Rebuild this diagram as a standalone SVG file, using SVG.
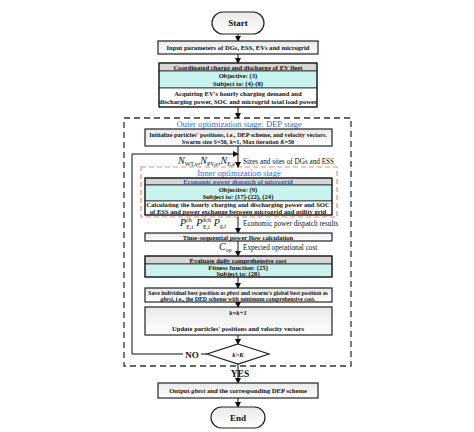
<svg xmlns="http://www.w3.org/2000/svg" width="474" height="432" viewBox="0 0 474 432">
<style>
.bx{fill:url(#g);stroke:#222;stroke-width:1.2}
.hd{fill:#d6d6d6;stroke:#222;stroke-width:0.8}
.cy{fill:#c8f3ee;stroke:#222;stroke-width:0.8}
.wh{fill:#fff;stroke:#222;stroke-width:0.8}
.fr{fill:none;stroke:#222;stroke-width:1.2}
.t{font-family:"Liberation Serif",serif;font-weight:bold;font-size:6.6px;fill:#111;text-anchor:middle}
.l{font-family:"Liberation Serif",serif;font-size:7.2px;fill:#111}
.b{font-family:"Liberation Serif",serif;font-size:8.6px;fill:#2f6fdc;text-anchor:middle}
.m{font-family:"Liberation Serif",serif;font-style:italic;font-size:10px;fill:#111}
.s{font-size:6px;font-style:normal}
.ln{stroke:#111;stroke-width:1;fill:none}
</style>
<defs>
<linearGradient id="g" x1="0" y1="0" x2="0" y2="1"><stop offset="0" stop-color="#e9e9e9"/><stop offset="1" stop-color="#ffffff"/></linearGradient>
<marker id="a" markerWidth="6" markerHeight="6" refX="5" refY="3" orient="auto" markerUnits="userSpaceOnUse"><path d="M0,0 L6,3 L0,6 z" fill="#111"/></marker>
</defs>
<rect width="474" height="432" fill="#fff"/>

<g id="outer-stage">
<rect x="124" y="118" width="227" height="248" fill="none" stroke="#333" stroke-width="1.3" stroke-dasharray="6,4"/>
<text class="b" x="239" y="127">Outer optimization stage: DEP stage</text>
</g>
<g id="inner-stage">
<rect x="141" y="167" width="196" height="50" fill="none" stroke="#e8906a" stroke-width="1.2" stroke-dasharray="5,3"/>
<text class="b" x="239" y="175.5">Inner optimization stage</text>
</g>

<g id="connectors">
<line class="ln" x1="238" y1="34" x2="238" y2="41" marker-end="url(#a)"/>
<line class="ln" x1="238" y1="54" x2="238" y2="63" marker-end="url(#a)"/>
<line class="ln" x1="238" y1="107" x2="238" y2="118" marker-end="url(#a)"/>
<line class="ln" x1="238" y1="146" x2="238" y2="167" marker-end="url(#a)"/>
<polyline class="ln" points="207,354 132,354 132,154 238,154" marker-end="url(#a)"/>
<line class="ln" x1="238" y1="217" x2="238" y2="233" marker-end="url(#a)"/>
<line class="ln" x1="238" y1="241" x2="238" y2="256" marker-end="url(#a)"/>
<line class="ln" x1="238" y1="277" x2="238" y2="288" marker-end="url(#a)"/>
<line class="ln" x1="238" y1="302" x2="238" y2="307" marker-end="url(#a)"/>
<line class="ln" x1="238" y1="335" x2="238" y2="344" marker-end="url(#a)"/>
<line class="ln" x1="238" y1="364" x2="238" y2="383" marker-end="url(#a)"/>
<line class="ln" x1="238" y1="398" x2="238" y2="407" marker-end="url(#a)"/>
<rect x="183" y="349" width="18" height="10" fill="#fff"/>
<text x="192" y="357.5" style="font-family:'Liberation Serif',serif;font-weight:bold;font-size:9px;text-anchor:middle;fill:#111">NO</text>
<text x="240" y="376.5" style="font-family:'Liberation Serif',serif;font-weight:bold;font-size:9.5px;text-anchor:middle;fill:#111">YES</text>
</g>

<g id="start">
<rect x="212" y="12" width="52" height="22" rx="11" class="bx"/>
<text class="t" x="238" y="26" style="font-size:9px">Start</text>
</g>

<g id="input">
<rect x="158" y="41" width="160" height="13" class="bx"/>
<text class="t" x="238" y="50">Input parameters of DGs, ESS, EVs and microgrid</text>
</g>

<g id="ev-fleet">
<rect x="159" y="63" width="158" height="8" class="hd"/>
<rect x="159" y="71" width="158" height="17" class="cy"/>
<rect x="159" y="88" width="158" height="19" class="wh"/>
<rect x="159" y="63" width="158" height="44" class="fr"/>
<text class="t" x="238" y="69.5">Coordinated charge and discharge of EV fleet</text>
<text class="t" x="238" y="77.5">Objective: (3)</text>
<text class="t" x="238" y="85.5">Subject to: (4)-(8)</text>
<text class="t" x="238" y="96">Acquiring EV's hourly charging demand and</text>
<text class="t" x="238" y="104">discharging power, SOC and microgrid total load power</text>
</g>

<g id="initialize">
<rect x="145" y="129" width="187" height="17" class="bx"/>
<text class="t" x="238" y="136.5" style="font-size:6.2px">Initialize particles' positions, i.e., DEP scheme, and velocity vectors.</text>
<text class="t" x="238" y="143.5" style="font-size:6.2px">Swarm size <tspan font-style="italic">S</tspan>=50, <tspan font-style="italic">k</tspan>=1, Max iteration <tspan font-style="italic">K</tspan>=50</text>
</g>

<g id="label-sizes">
<text class="m" x="178" y="164">N<tspan class="s" dy="2">WT,e</tspan><tspan dy="-2">,N</tspan><tspan class="s" dy="2">PV,e</tspan><tspan dy="-2">,N</tspan><tspan class="s" dy="2">E,e</tspan></text>
<text class="l" x="243" y="164">Sizes and sites of DGs and ESS</text>
</g>

<g id="dispatch">
<rect x="145" y="178" width="187" height="7" class="hd"/>
<rect x="145" y="185" width="187" height="16" class="cy"/>
<rect x="145" y="201" width="187" height="14" class="wh"/>
<rect x="145" y="178" width="187" height="37" class="fr"/>
<text class="t" x="238" y="184" style="fill:#2f5fc0">Economic power dispatch of microgrid</text>
<text class="t" x="238" y="191.5">Objective: (9)</text>
<text class="t" x="238" y="199">Subject to: (17)-(22), (24)</text>
<text class="t" x="238" y="207">Calculating the hourly charging and discharging power and SOC</text>
<text class="t" x="238" y="213.5">of ESS and power exchange between microgrid and utility grid</text>
</g>

<g id="label-p">
<text class="m" x="180" y="226">P<tspan class="s" dx="0" dy="-4">ch</tspan><tspan class="s" dx="-5.5" dy="7">E,<tspan font-style="italic">t</tspan></tspan><tspan dx="3" dy="-3">P</tspan><tspan class="s" dy="-4">dch</tspan><tspan class="s" dx="-8" dy="7">E,<tspan font-style="italic">t</tspan></tspan><tspan dx="4" dy="-3">P</tspan><tspan class="s" dy="2">g,<tspan font-style="italic">t</tspan></tspan></text>
<text class="l" x="243" y="226">Economic power dispatch results</text>
</g>

<g id="powerflow">
<rect x="145" y="233" width="187" height="8" class="bx"/>
<text class="t" x="238" y="239.5">Time-sequential power flow calculation</text>
</g>

<g id="label-cop">
<text class="m" x="219" y="250">C<tspan class="s" dy="2">op</tspan></text>
<text class="l" x="243" y="250">Expected operational cost</text>
</g>

<g id="evaluate">
<rect x="145" y="256" width="187" height="8" class="hd"/>
<rect x="145" y="264" width="187" height="13" class="cy"/>
<rect x="145" y="256" width="187" height="21" class="fr"/>
<text class="t" x="238" y="262.5">Evaluate daily comprehensive cost</text>
<text class="t" x="238" y="269.5">Fitness function: (25)</text>
<text class="t" x="238" y="276">Subject to: (28)</text>
</g>

<g id="save">
<rect x="145" y="288" width="187" height="14" class="bx"/>
<text class="t" x="238" y="294.5" style="font-size:5.8px">Save individual best position as <tspan font-style="italic">pbest</tspan> and swarm's global best position as</text>
<text class="t" x="238" y="300.5" style="font-size:5.8px"><tspan font-style="italic">gbest</tspan>, i.e., the DED scheme with minimum comprehensive cost.</text>
</g>

<g id="update">
<rect x="145" y="307" width="187" height="28" class="bx"/>
<text class="t" x="238" y="315" font-style="italic">k=k+1</text>
<text class="t" x="238" y="331">Update particles' positions and velocity vectors</text>
</g>

<g id="decision">
<polygon points="238,344 269,354 238,364 207,354" fill="#fff" stroke="#222" stroke-width="1.2"/>
<text class="t" x="238" y="356.5" font-style="italic">k&gt;K</text>
</g>

<g id="output">
<rect x="158" y="383" width="160" height="15" class="bx"/>
<text class="t" x="238" y="393">Output <tspan font-style="italic">gbest</tspan> and the corresponding DEP scheme</text>
</g>

<g id="end">
<rect x="211" y="407" width="54" height="21" rx="10.5" class="bx"/>
<text class="t" x="238" y="420.5" style="font-size:9px">End</text>
</g>
</svg>
